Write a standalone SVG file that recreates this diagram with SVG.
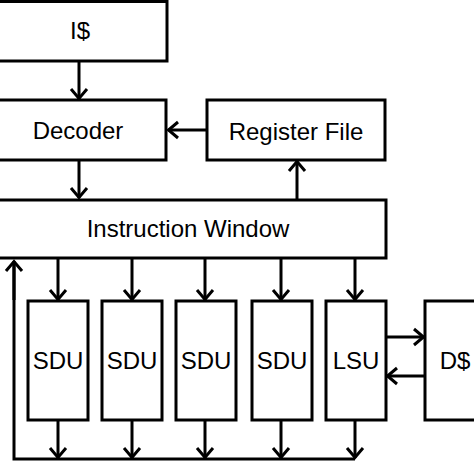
<svg xmlns="http://www.w3.org/2000/svg" width="474" height="474" viewBox="0 0 474 474">
<style>
.box{fill:#fff;stroke:#000;stroke-width:3}
.lbl{font-family:"Liberation Sans",Arial,sans-serif;font-size:24px;fill:#000;text-anchor:middle}
.ln{fill:none;stroke:#000;stroke-width:3}
.arr{fill:none;stroke:#000;stroke-width:3;marker-end:url(#ah)}
</style>
<defs>
<marker id="ah" markerUnits="userSpaceOnUse" markerWidth="24" markerHeight="24" viewBox="-12 -12 24 24" refX="0" refY="0" orient="auto">
<path d="M-10,-8 L-0.5,0 L-10,8" fill="none" stroke="#000" stroke-width="3"/>
</marker>
</defs>
<rect width="474" height="474" fill="#fff"/>
<g id="connectors">
<line class="arr" x1="79" y1="61" x2="79" y2="99"/>
<line class="arr" x1="207" y1="130" x2="168" y2="130"/>
<line class="arr" x1="79" y1="160" x2="79" y2="198"/>
<line class="arr" x1="297" y1="199" x2="297" y2="161"/>
<line class="arr" x1="58" y1="258" x2="58" y2="300"/>
<line class="arr" x1="132" y1="258" x2="132" y2="300"/>
<line class="arr" x1="205" y1="258" x2="205" y2="300"/>
<line class="arr" x1="281" y1="258" x2="281" y2="300"/>
<line class="arr" x1="355" y1="258" x2="355" y2="300"/>
<line class="arr" x1="58" y1="420" x2="58" y2="458"/>
<line class="arr" x1="132" y1="420" x2="132" y2="458"/>
<line class="arr" x1="205" y1="420" x2="205" y2="458"/>
<line class="arr" x1="281" y1="420" x2="281" y2="458"/>
<line class="arr" x1="355" y1="420" x2="355" y2="458"/>
<polyline class="ln" points="355,459 14,459 14,262"/>
<line class="arr" x1="14" y1="300" x2="14" y2="261"/>
<line class="arr" x1="386" y1="337" x2="424" y2="337"/>
<line class="arr" x1="425" y1="376" x2="387" y2="376"/>
</g>
<g id="icache"><rect class="box" x="-8" y="1.5" width="175" height="59.5"/><text class="lbl" x="80" y="39">I$</text></g>
<g id="decoder"><rect class="box" x="-8" y="100" width="174" height="60"/><text class="lbl" x="78" y="139">Decoder</text></g>
<g id="regfile"><rect class="box" x="207" y="100" width="178" height="60"/><text class="lbl" x="296" y="140">Register File</text></g>
<g id="iwindow"><rect class="box" x="-9" y="200" width="395" height="58"/><text class="lbl" x="188" y="237">Instruction Window</text></g>
<g id="sdu1"><rect class="box" x="28" y="301" width="60" height="119"/><text class="lbl" x="58" y="369">SDU</text></g>
<g id="sdu2"><rect class="box" x="102" y="301" width="60" height="119"/><text class="lbl" x="132" y="369">SDU</text></g>
<g id="sdu3"><rect class="box" x="176" y="301" width="60" height="119"/><text class="lbl" x="206" y="369">SDU</text></g>
<g id="sdu4"><rect class="box" x="252" y="301" width="60" height="119"/><text class="lbl" x="282" y="369">SDU</text></g>
<g id="lsu"><rect class="box" x="326" y="301" width="60" height="119"/><text class="lbl" x="356" y="369">LSU</text></g>
<g id="dcache"><rect class="box" x="425" y="301" width="60" height="119"/><text class="lbl" x="455" y="369">D$</text></g>
</svg>
